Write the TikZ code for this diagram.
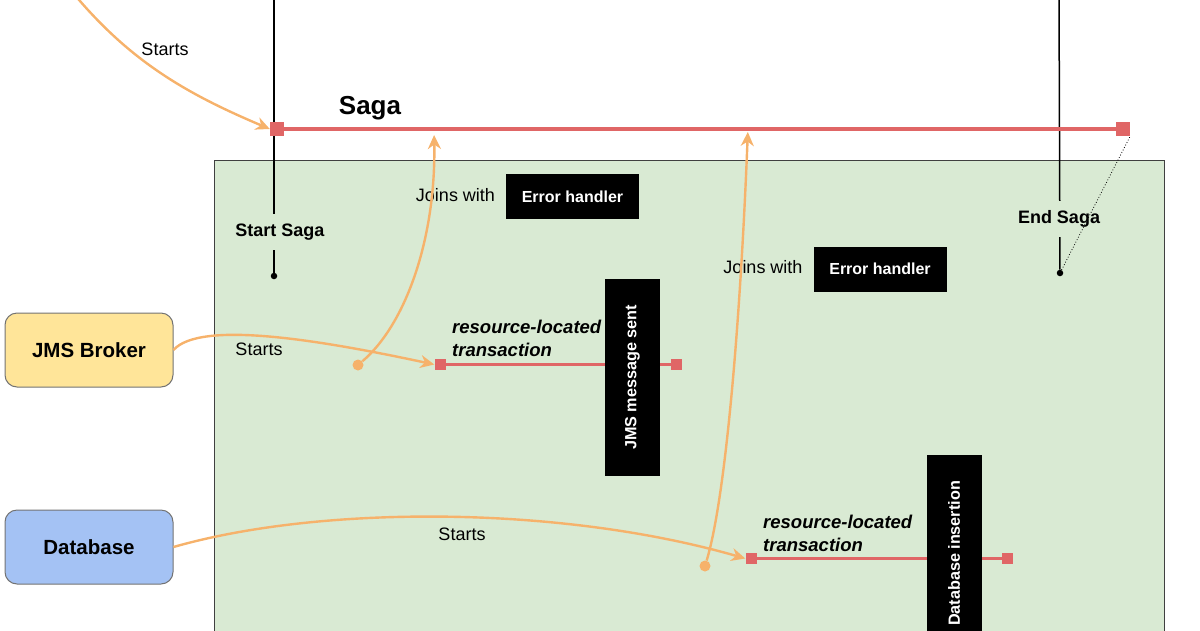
\documentclass[tikz,border=0pt]{standalone}
\usepackage{fontspec}
\setmainfont{Liberation Sans}
\usepackage{xcolor}
\usetikzlibrary{arrows.meta}

\definecolor{sagared}{HTML}{E06666}
\definecolor{flow}{HTML}{F6B26B}
\definecolor{scopegreen}{HTML}{D9EAD3}
\definecolor{jmsyellow}{HTML}{FFE599}
\definecolor{dbblue}{HTML}{A4C2F4}

\begin{document}
\begin{tikzpicture}[
  x=1pt,y=1pt,
  res/.style={draw=black!55,line width=1pt,rounded corners=12pt,minimum width=168pt,minimum height=74pt,
    font=\fontsize{20.5}{24}\selectfont\bfseries},
  eh/.style={fill=black,text=white,minimum width=133pt,minimum height=45pt,inner sep=0pt,
    font=\fontsize{16}{19}\selectfont\bfseries},
  act/.style={fill=black,text=white,rotate=90,minimum width=197pt,minimum height=55pt,inner sep=0pt,
    font=\fontsize{16.2}{19}\selectfont\bfseries},
  sq/.style={fill=sagared,minimum size=14pt,inner sep=0pt},
  sqs/.style={sq,minimum size=11pt},
  dot/.style={circle,fill=black,minimum size=6.5pt,inner sep=0pt},
  odot/.style={circle,fill=flow,minimum size=11pt,inner sep=0pt},
  starts/.style={flow,line width=2.4pt,-{Stealth[length=14pt,width=13pt,inset=4.5pt]}},
  lbl/.style={font=\fontsize{18}{21}\selectfont,inner sep=0pt},
  ev/.style={font=\fontsize{18}{21}\selectfont\bfseries,fill=scopegreen,inner xsep=2pt,inner ysep=10pt},
  tx/.style={font=\fontsize{18.5}{23}\selectfont\bfseries\itshape,align=left,anchor=west,inner sep=0pt}
]
\useasboundingbox (0,0) rectangle (1200,-630);
% saga scope
\draw[draw=black!75,line width=1pt,fill=scopegreen] (214,-160) rectangle (1164,-650);
% life lines of the saga
\coordinate (stTop) at (274,6);
\coordinate (endTop) at (1059,6);
\node[dot] (stDot) at (274,-276) {};
\node[dot] (endDot) at (1060,-273) {};
\draw[line width=1.5pt] (stTop) -- (stDot);
\draw[line width=1.5pt] (endTop) -- (endDot);
\node[ev] (startSaga) at (280,-232) {Start Saga};
\node[ev] (endSaga) at (1059,-219) {End Saga};
% the saga itself
\node[sq] (sagaL) at (277,-129) {};
\node[sq] (sagaR) at (1123,-129) {};
\draw[sagared,line width=3.2pt] (sagaL) -- (sagaR);
\node[font=\fontsize{26}{30}\selectfont\bfseries] (sagaLbl) at (370,-108) {Saga};
\draw[dotted,line width=0.8pt] (endDot) -- (sagaR.south east);
% resources
\node[res,fill=jmsyellow] (jms) at (89,-350) {JMS Broker};
\node[res,fill=dbblue] (db) at (89,-547) {Database};
% resource-located transactions
\node[sqs] (jmsL) at (440,-364.5) {};
\node[sqs] (jmsR) at (676.5,-364.5) {};
\draw[sagared,line width=2.5pt] (jmsL) -- (jmsR);
\node[act] (jmsSent) at (632.5,-377.5) {JMS message sent};
\node[tx] (jmsTx) at (452,-338) {resource-located\\transaction};
\node[sqs] (dbL) at (751,-558.5) {};
\node[sqs] (dbR) at (1007.5,-558.5) {};
\draw[sagared,line width=2.5pt] (dbL) -- (dbR);
\node[act] (dbIns) at (954,-553.5) {Database insertion};
\node[tx] (dbTx) at (763,-533) {resource-located\\transaction};
% error handlers
\node[eh] (err1) at (572.5,-196.5) {Error handler};
\node[eh] (err2) at (880,-269) {Error handler};
\node[lbl] (joins1) at (455.5,-195) {Joins with};
\node[lbl] (joins2) at (763,-267) {Joins with};
% starts
\coordinate (outside) at (74,6);
\draw[starts] (outside) .. controls (131,-62) and (187,-94) .. (sagaL.west);
\node[lbl] (starts0) at (165,-49) {Starts};
\draw[starts] (jms.east) .. controls (200,-320) and (320,-340) .. (jmsL.west);
\node[lbl] (starts1) at (259,-349) {Starts};
\draw[starts] (db.east) .. controls (320,-505) and (560,-505) .. (dbL.west);
\node[lbl] (starts2) at (462,-534) {Starts};
% joins
\node[odot] (jd1) at (358,-365) {};
\node[odot] (jd2) at (705,-566) {};
\coordinate (join1) at (434,-128);
\coordinate (join2) at (748,-128);
\draw[starts,shorten >=7pt] (jd1) .. controls (405,-325) and (436,-240) .. (join1);
\draw[starts,shorten >=4pt] (jd2) .. controls (725,-500) and (740,-330) .. (join2);
\end{tikzpicture}
\end{document}
